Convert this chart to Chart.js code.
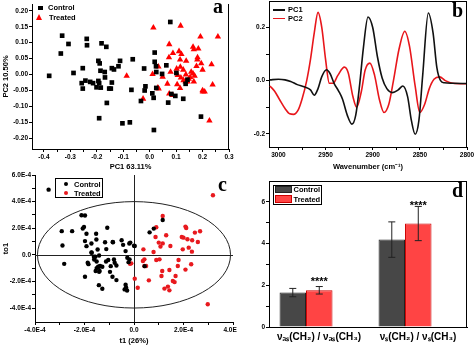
<!DOCTYPE html>
<html lang="en">
<head>
<meta charset="UTF-8">
<title>PCA scores, loadings, OPLS-DA and CH2/CH3 ratios</title>
<script src="https://cdn.jsdelivr.net/npm/chart.js"></script>
<style>
    body { margin: 0; padding: 0; background: #fff; font-family: 'Liberation Sans', Arial, sans-serif; }
    #fig { position: relative; width: 474px; height: 346px; overflow: hidden; background: #fff; }
    .panel { position: absolute; }
    .letter { position: absolute; font-family: 'Liberation Serif', 'Times New Roman', serif; font-weight: bold; font-size: 20px; line-height: 20px; color: #000; }
    .leg { position: absolute; font-weight: bold; font-size: 7.5px; line-height: 9px; color: #000; white-space: nowrap; }
    .sw { position: absolute; }
    .tri { position: absolute; width: 0; height: 0; border-left: 3.5px solid transparent; border-right: 3.5px solid transparent; border-bottom: 6px solid #f00; }
    .dot { position: absolute; width: 4px; height: 4px; border-radius: 50%; }
    .box { position: absolute; border: 1px solid #000; box-sizing: border-box; }
</style>
</head>
<body>
<div id="fig">
    <div class="panel" style="left:0;top:0;width:237px;height:172px"><canvas id="chartA"></canvas></div>
    <div class="panel" style="left:237px;top:0;width:237px;height:172px"><canvas id="chartB"></canvas></div>
    <div class="panel" style="left:0;top:170px;width:237px;height:176px"><canvas id="chartC"></canvas></div>
    <div class="panel" style="left:237px;top:170px;width:237px;height:176px"><canvas id="chartD"></canvas></div>

    <!-- panel a legend -->
    <div class="sw" style="left:38px;top:5.5px;width:4.5px;height:4.5px;background:#000"></div>
    <div class="leg" style="left:48px;top:3.3px">Control</div>
    <div class="tri" style="left:36px;top:14px"></div>
    <div class="leg" style="left:49px;top:12.9px">Treated</div>

    <!-- panel b legend -->
    <div class="sw" style="left:273px;top:9px;width:12px;height:1.5px;background:#111"></div>
    <div class="leg" style="left:288px;top:5.3px">PC1</div>
    <div class="sw" style="left:273px;top:17.5px;width:12px;height:1.5px;background:#e8161b"></div>
    <div class="leg" style="left:288px;top:13.6px">PC2</div>

    <!-- panel c legend -->
    <div class="box" style="left:55px;top:178px;width:48px;height:19.5px"></div>
    <div class="dot" style="left:63.7px;top:182px;background:#000"></div>
    <div class="leg" style="left:74px;top:179.6px">Control</div>
    <div class="dot" style="left:63.7px;top:191.3px;background:#e8191e"></div>
    <div class="leg" style="left:74px;top:188.9px">Treated</div>

    <!-- panel d legend -->
    <div class="box" style="left:273px;top:185px;width:49px;height:19.5px"></div>
    <div class="sw" style="left:274.5px;top:186.3px;width:17px;height:7px;background:#474747;border:1px solid #222;box-sizing:border-box"></div>
    <div class="leg" style="left:293.5px;top:185.3px">Control</div>
    <div class="sw" style="left:274.5px;top:195.3px;width:17px;height:8px;background:#ff4444;border:1px solid #c00;box-sizing:border-box"></div>
    <div class="leg" style="left:293.5px;top:194.9px">Treated</div>

    <div class="letter" style="left:213px;top:-3.7px">a</div>
    <div class="letter" style="left:452px;top:0px">b</div>
    <div class="letter" style="left:218px;top:174px">c</div>
    <div class="letter" style="left:452px;top:180px">d</div>
</div>

<script>
    // ---- panel a: PCA scores ----
    const controlPC1 = [0.078, -0.331, -0.307, -0.238, -0.237, -0.336, -0.182, -0.164, -0.38, -0.288,
        -0.253, -0.194, -0.189, -0.186, -0.170, -0.143, -0.135, -0.118, -0.112, -0.064,
        -0.257, -0.243, -0.253, -0.225, -0.214, -0.194, -0.191, -0.201, -0.185, -0.169,
        -0.143, -0.147, -0.153, -0.162, -0.191, -0.103, -0.075, -0.069, -0.021, 0.019,
        0.019, 0.024, 0.025, 0.047, 0.063, -0.016, -0.019, -0.033, 0.010, 0.015,
        0.025, 0.070, 0.082, 0.097, 0.101, 0.127, 0.136, 0.194, 0.016, 0.143];
    const controlPC2 = [0.165, 0.122, 0.096, 0.112, 0.092, 0.066, 0.098, 0.087, -0.004, 0.005,
        0.020, 0.043, 0.035, 0.012, 0.008, 0.020, 0.016, 0.026, 0.043, 0.048,
        -0.027, -0.019, -0.044, -0.023, -0.027, -0.020, -0.027, -0.040, -0.041, -0.009,
        -0.025, -0.044, -0.044, -0.089, -0.137, -0.153, -0.150, -0.048, 0.019, 0.069,
        0.040, 0.026, 0.008, 0.002, 0.029, -0.037, -0.050, -0.083, -0.059, -0.073,
        -0.042, -0.088, -0.061, -0.067, 0.005, -0.076, -0.029, -0.132, -0.174, -0.016];
    const treatedPC1 = [0.014, 0.117, 0.192, 0.258, 0.074, 0.111, 0.164, 0.167, 0.184, 0.088,
        0.120, 0.073, 0.181, 0.180, 0.115, 0.138, 0.195, 0.234, 0.177, 0.033,
        0.102, 0.127, 0.200, 0.079, 0.011, -0.087, 0.049, 0.157, 0.164, 0.106,
        0.137, 0.153, 0.170, 0.118, 0.128, 0.143, 0.148, 0.136, 0.167, 0.067,
        0.104, 0.238, 0.034, 0.115, 0.031, 0.200, 0.201, 0.208, 0.074, -0.025,
        0.087, 0.226, 0.116];
    const treatedPC2 = [0.147, 0.153, 0.119, 0.119, 0.095, 0.073, 0.087, 0.079, 0.081, 0.067,
        0.064, 0.054, 0.054, 0.047, 0.047, 0.043, 0.035, 0.032, 0.026, 0.025,
        0.018, 0.015, 0.015, 0.008, 0.001, -0.004, -0.007, 0.008, 0.003, -0.002,
        0.000, -0.008, -0.004, -0.010, -0.018, -0.022, -0.014, -0.022, -0.022, -0.029,
        -0.031, -0.032, -0.044, -0.043, -0.041, -0.050, -0.054, -0.054, -0.060, -0.076,
        -0.065, -0.145, 0.024];
    const pcaXTicks = [-0.4, -0.3, -0.2, -0.1, 0, 0.1, 0.2, 0.3];
    const pcaYTicks = [-0.2, -0.15, -0.1, -0.05, 0, 0.05, 0.1, 0.15, 0.2];

    // ---- panel b: PC loadings ----
    const pc1Wavenumber = [3009, 3000, 2993, 2987, 2980, 2972, 2966, 2962, 2958, 2954,
        2949, 2945, 2941, 2936, 2932, 2927, 2922, 2918, 2914, 2910,
        2905, 2900, 2895, 2890, 2885, 2879, 2873, 2868, 2863, 2859,
        2855, 2851, 2847, 2841, 2836, 2832, 2828, 2824, 2815, 2800];
    const pc1Loading = [0.003, 0.005, 0.003, -0.003, -0.015, -0.024, -0.035, -0.055, -0.03, 0.015,
        0.041, 0.025, -0.01, -0.04, -0.07, -0.13, -0.164, -0.13, -0.02, 0.12,
        0.24, 0.20, 0.09, 0.01, -0.03, -0.045, -0.035, -0.02, -0.06, -0.15,
        -0.202, -0.15, 0.02, 0.255, 0.18, 0.05, 0.0, -0.008, -0.01, -0.011];
    const pc2Wavenumber = [3009, 3004, 2999, 2993, 2988, 2984, 2979, 2975, 2970, 2966,
        2962, 2958, 2954, 2950, 2946, 2942, 2937, 2930, 2926, 2921,
        2917, 2912, 2908, 2903, 2898, 2893, 2888, 2883, 2878, 2872,
        2866, 2861, 2855, 2850, 2845, 2840, 2835, 2829, 2823, 2815, 2800];
    const pc2Loading = [-0.02, -0.04, -0.07, -0.105, -0.125, -0.127, -0.11, -0.07, 0.0, 0.08,
        0.18, 0.257, 0.2, 0.08, -0.01, -0.01, 0.02, 0.051, 0.03, -0.06,
        -0.10, -0.04, 0.04, 0.066, 0.02, -0.07, -0.12, -0.09, 0.0, 0.12,
        0.186, 0.13, -0.02, -0.12, -0.09, -0.03, 0.005, 0.014, 0.0, -0.01, -0.012];
    const loadXTicks = [2800, 2850, 2900, 2950, 3000];
    const loadYTicks = [-0.2, 0, 0.2];

    // ---- panel c: OPLS-DA scores, values in units of 1E-4 ----
    const controlT1 = [-3.45, -2.92, -2.89, -2.82, -2.50, -2.12, -1.98, -2.07, -2.02, -1.92,
        -1.98, -1.92, -1.53, -1.52, -1.08, -1.72, -1.17, -0.85, -0.50, -0.44,
        -0.19, 0.0, -1.47, -1.12, -1.71, -1.56, -1.41, -1.87, -1.84, -1.61,
        -1.51, -1.41, -1.51, -1.55, -1.41, -1.45, -1.28, -1.13, -0.94, -0.81,
        -0.78, -0.71, -0.97, -0.87, -0.71, -1.98, -1.42, -1.28, -0.34, -0.27,
        -0.22, -0.34, -0.32, -0.28, -0.38, 0.63, 0.80, 1.16, 0.43,
        -1.72, -1.62, -1.37, -1.39, -1.04, -0.86, -0.15, 0.03, -0.18];
    const controlTo1 = [4.9, 1.78, 0.70, -0.68, 1.78, 2.98, 2.95, 1.98, 2.1, 1.58,
        1.03, 0.65, 1.58, 1.15, 2.03, 0.85, 0.95, 0.95, 1.10, 0.75,
        0.85, 0.68, 0.40, 0.43, 0.15, -0.15, -0.05, -0.60, -0.70, -0.35,
        -0.50, -0.90, -1.00, -1.22, -1.28, -0.90, -0.90, -0.50, -0.85, -0.35,
        -0.60, -0.80, -1.28, -1.65, -1.90, -1.65, -2.28, -2.55, 0.28, -0.22,
        -0.55, -2.25, -2.45, -2.68, -2.60, 1.69, 1.97, 2.62, -0.85,
        0.17, -0.14, -0.84, -1.22, -0.39, 0.96, 0.92, 0.66, -0.34];
    const treatedT1 = [1.16, 0.90, 1.30, 0.87, 1.00, 1.16, 1.07, 1.47, 0.79, 0.38,
        0.42, 0.36, 0.90, 1.03, -0.11, 0.42, 0.49, 0.03, 0.15, 0.60,
        1.14, 1.43, 1.11, 1.68, 1.57, 1.64, 1.37, 1.23, 1.43, 1.80,
        1.77, 2.08, 2.31, 1.97, 2.00, 2.11, 2.08, 1.93, 2.16, 2.35,
        2.21, 2.46, 2.67, 2.58, 2.34, 2.98, 3.19, -0.16];
    const treatedTo1 = [2.92, 2.07, 1.47, 1.34, 0.92, 0.86, 0.62, 0.66, 0.21, 0.41,
        -0.34, -0.47, -0.39, -0.34, -0.64, -0.84, -0.84, -1.79, -2.47, -1.92,
        -1.22, -1.14, -1.59, -1.59, -1.97, -2.05, -2.39, -2.54, -2.67, -0.39,
        -0.84, -1.11, -0.71, 0.41, 1.29, 2.02, 2.12, 1.34, 1.17, 1.09,
        0.54, 1.67, 1.77, 0.96, 0.24, -3.72, 4.48, -0.68];
    const ellipseRadii = [3.9, 4.0];   // Hotelling T2 ellipse, t1 and to1 radii
    const oplsXTicks = [-4, -2, 0, 2, 4];
    const oplsYTicks = [-4, -2, 0, 2, 4, 6];

    // ---- panel d: band ratios ----
    const ratioLabels = ['νₐₛ(CH₂) / νₐₛ(CH₃)', 'νₛ(CH₂) / νₛ(CH₃)'];
    const controlRatio = [1.65, 4.19];
    const controlSD = [0.20, 0.85];
    const treatedRatio = [1.76, 4.96];
    const treatedSD = [0.18, 0.82];
    const sigLabels = ['****', '****'];
    const sigLevel = [2.3, 5.95];
    const ratioYTicks = [0, 2, 4, 6];

    const FAMILY = "'Liberation Sans', Arial, sans-serif";
    const tickFont = { family: FAMILY, size: 6.5, weight: 'bold' };
    const titleFont = { family: FAMILY, size: 7.5, weight: 'bold' };

    function pairs(xs, ys) {
        return xs.map((x, i) => ({ x: x, y: ys[i] }));
    }
    function withMinor(major) {
        const t = [];
        major.forEach((v, i) => {
            t.push(v);
            if (i < major.length - 1) t.push((v + major[i + 1]) / 2);
        });
        return t;
    }
    function isMajor(major, v) {
        return major.some(m => Math.abs(m - v) < 1e-9);
    }

    // one linear axis in the Origin look: outside ticks, fixed box size
    function axis(o) {
        return {
            type: 'linear',
            position: o.position,
            min: o.min,
            max: o.max,
            offset: false,
            reverse: !!o.reverse,
            border: { display: true, color: '#000', width: 1 },
            grid: {
                drawOnChartArea: false,
                offset: false,
                color: '#000',
                tickColor: '#000',
                tickLength: o.tickLength === undefined ? 3 : o.tickLength,
                lineWidth: 1
            },
            ticks: {
                font: o.font || tickFont,
                color: '#000',
                padding: o.padding === undefined ? 1 : o.padding,
                autoSkip: false,
                maxRotation: 0,
                labelOffset: o.labelOffset || 0,
                callback: o.labels ? o.labels : (v => isMajor(o.ticks, v) ? o.fmt(v) : '')
            },
            afterBuildTicks: s => {
                s.ticks = (o.minor ? withMinor(o.ticks) : o.ticks).map(v => ({ value: v }));
            },
            afterFit: s => {
                if (s.isHorizontal()) {
                    s.height = o.size; s.paddingLeft = 0; s.paddingRight = 0;
                } else {
                    s.width = o.size; s.paddingTop = 0; s.paddingBottom = 0;
                }
            },
            title: o.title ? {
                display: true, text: o.title, font: titleFont, color: '#000',
                padding: { top: 1.5, bottom: 1 }
            } : { display: false }
        };
    }

    // top / right frame lines
    const frame = {
        id: 'frame',
        afterDraw(chart, args, opts) {
            const { ctx, chartArea: { left, right, top, bottom } } = chart;
            ctx.save();
            ctx.strokeStyle = '#000';
            ctx.lineWidth = 1;
            ctx.beginPath();
            if (opts.top) { ctx.moveTo(left, top + 0.5); ctx.lineTo(right, top + 0.5); }
            if (opts.right) { ctx.moveTo(right - 0.5, top); ctx.lineTo(right - 0.5, bottom); }
            ctx.stroke();
            ctx.restore();
        }
    };

    // zero cross lines and the confidence ellipse of panel c
    const ellipse = {
        id: 'ellipse',
        beforeDatasetsDraw(chart) {
            const { ctx, chartArea: area, scales: { x, y } } = chart;
            const cx = x.getPixelForValue(0), cy = y.getPixelForValue(0);
            const rx = Math.abs(x.getPixelForValue(ellipseRadii[0]) - cx);
            const ry = Math.abs(y.getPixelForValue(ellipseRadii[1]) - cy);
            ctx.save();
            ctx.strokeStyle = '#222';
            ctx.lineWidth = 1;
            ctx.beginPath();
            ctx.moveTo(Math.round(cx) + 0.5, area.top);
            ctx.lineTo(Math.round(cx) + 0.5, area.bottom);
            ctx.moveTo(area.left, Math.round(cy) + 0.5);
            ctx.lineTo(area.right, Math.round(cy) + 0.5);
            ctx.stroke();
            ctx.beginPath();
            ctx.ellipse(cx, cy, rx, ry, 0, 0, Math.PI * 2);
            ctx.stroke();
            ctx.restore();
        }
    };

    const errorBars = {
        id: 'errorBars',
        afterDatasetsDraw(chart) {
            const { ctx, scales: { y } } = chart;
            ctx.save();
            ctx.strokeStyle = '#222';
            ctx.lineWidth = 1;
            chart.data.datasets.forEach((ds, di) => {
                chart.getDatasetMeta(di).data.forEach((bar, i) => {
                    const v = ds.data[i].y, e = ds.errors[i];
                    const t = y.getPixelForValue(v + e), b = y.getPixelForValue(v - e);
                    ctx.beginPath();
                    ctx.moveTo(bar.x, t); ctx.lineTo(bar.x, b);
                    ctx.moveTo(bar.x - 3.5, t); ctx.lineTo(bar.x + 3.5, t);
                    ctx.moveTo(bar.x - 3.5, b); ctx.lineTo(bar.x + 3.5, b);
                    ctx.stroke();
                });
            });
            // significance stars over the treated bars
            const treatedMeta = chart.getDatasetMeta(1);
            ctx.fillStyle = '#000';
            ctx.font = 'bold 11px ' + FAMILY;
            ctx.textAlign = 'center';
            ctx.textBaseline = 'middle';
            treatedMeta.data.forEach((bar, i) => {
                ctx.fillText(sigLabels[i], bar.x, y.getPixelForValue(sigLevel[i]) + 3);
            });
            ctx.restore();
        }
    };

    const base = {
        responsive: true,
        maintainAspectRatio: false,
        animation: false,
        plugins: { legend: { display: false }, tooltip: { enabled: false } }
    };

    // panel a
    new Chart(document.getElementById('chartA'), {
        type: 'scatter',
        data: {
            datasets: [
                { label: 'Control', data: pairs(controlPC1, controlPC2), pointStyle: 'rect', pointRadius: 3.3, borderWidth: 0, backgroundColor: '#000', borderColor: '#000' },
                { label: 'Treated', data: pairs(treatedPC1, treatedPC2), pointStyle: 'triangle', pointRadius: 3.7, borderWidth: 0, backgroundColor: '#f00', borderColor: '#f00' }
            ]
        },
        options: Object.assign({}, base, {
            layout: { padding: { left: 0, right: 8, top: 0, bottom: 0 } },
            plugins: Object.assign({}, base.plugins, { frame: { right: true } }),
            scales: {
                x: axis({ position: 'bottom', min: -0.445, max: 0.3, ticks: pcaXTicks, minor: true, fmt: v => v.toFixed(1), size: 23, title: 'PC1 63.11%' }),
                y: axis({ position: 'left', min: -0.2336, max: 0.2214, ticks: pcaYTicks, fmt: v => v.toFixed(2), size: 32, title: 'PC2 10.50%' })
            }
        }),
        plugins: [frame]
    });

    // panel b
    new Chart(document.getElementById('chartB'), {
        type: 'line',
        data: {
            datasets: [
                { label: 'PC1', data: pairs(pc1Wavenumber, pc1Loading), borderColor: '#111', borderWidth: 1.6, pointRadius: 0, cubicInterpolationMode: 'monotone' },
                { label: 'PC2', data: pairs(pc2Wavenumber, pc2Loading), borderColor: '#e8161b', borderWidth: 1.6, pointRadius: 0, cubicInterpolationMode: 'monotone' }
            ]
        },
        options: Object.assign({}, base, {
            layout: { padding: { left: 0, right: 7, top: 1, bottom: 0 } },
            plugins: Object.assign({}, base.plugins, { frame: { right: true, top: true } }),
            scales: {
                x: axis({ position: 'bottom', min: 2800, max: 3010, reverse: true, ticks: loadXTicks, minor: true, fmt: v => String(v), size: 25, title: 'Wavenumber (cm⁻¹)' }),
                y: axis({ position: 'left', min: -0.25, max: 0.3, ticks: loadYTicks, minor: true, fmt: v => v.toFixed(1), size: 32 })
            }
        }),
        plugins: [frame]
    });

    // panel c
    new Chart(document.getElementById('chartC'), {
        type: 'scatter',
        data: {
            datasets: [
                { label: 'Control', data: pairs(controlT1, controlTo1), pointRadius: 2.2, borderWidth: 0, backgroundColor: '#000' },
                { label: 'Treated', data: pairs(treatedT1, treatedTo1), pointRadius: 2.2, borderWidth: 0, backgroundColor: '#e8191e' }
            ]
        },
        options: Object.assign({}, base, {
            layout: { padding: { left: 0, right: 4, top: 5, bottom: 0 } },
            scales: {
                x: axis({ position: 'bottom', min: -4, max: 4, ticks: oplsXTicks, minor: true, fmt: v => v === 0 ? '0.0' : v.toFixed(1) + 'E-4', size: 24, title: 't1 (26%)' }),
                y: axis({ position: 'left', min: -5.05, max: 6, ticks: oplsYTicks, minor: true, fmt: v => v === 0 ? '0.0' : v.toFixed(1) + 'E-4', size: 35, title: 'to1' })
            }
        }),
        plugins: [ellipse]
    });

    // panel d
    new Chart(document.getElementById('chartD'), {
        type: 'bar',
        data: {
            datasets: [
                { label: 'Control', data: pairs([0, 1], controlRatio), errors: controlSD, backgroundColor: '#474747', borderColor: '#222', borderWidth: 1 },
                { label: 'Treated', data: pairs([0, 1], treatedRatio), errors: treatedSD, backgroundColor: '#ff4444', borderColor: '#c00', borderWidth: 1 }
            ]
        },
        options: Object.assign({}, base, {
            layout: { padding: { left: 0, right: 7, top: 11, bottom: 0 } },
            plugins: Object.assign({}, base.plugins, { frame: { right: true, top: true } }),
            datasets: { bar: { categoryPercentage: 0.535, barPercentage: 1 } },
            scales: {
                x: axis({ position: 'bottom', min: -0.374, max: 1.626, ticks: [0, 1], labels: v => ratioLabels[v], labelOffset: 13, size: 19, tickLength: 0, padding: 4, font: { family: FAMILY, size: 10, weight: 'bold' } }),
                y: axis({ position: 'left', min: 0, max: 7, ticks: ratioYTicks, minor: true, fmt: v => String(v), size: 32 })
            }
        }),
        plugins: [frame, errorBars]
    });
</script>
</body>
</html>
